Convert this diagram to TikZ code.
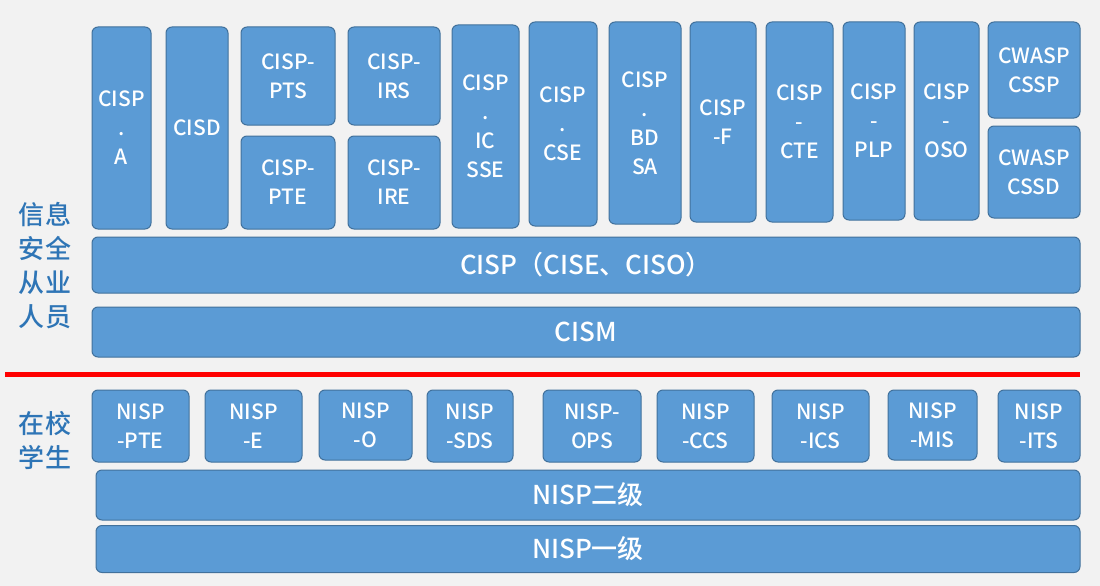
\documentclass[tikz,border=0pt]{standalone}
\usepackage{fontspec}
\setmainfont{Noto Sans CJK SC}[BoldFont={Noto Sans CJK SC Medium}]
\begin{document}
\begin{tikzpicture}[x=1pt,y=-1pt,
 bx/.style={draw=bord,fill=boxc,rounded corners=6pt,line width=1pt,text=white,align=center,font=\fontsize{21}{29}\selectfont\bfseries,inner sep=0pt},
 bar/.style={bx,font=\fontsize{26}{30}\selectfont\bfseries}]
\definecolor{boxc}{HTML}{5B9BD5}\definecolor{bord}{HTML}{41719C}\definecolor{lab}{HTML}{2E75B6}
\fill[white!95!black] (0,0) rectangle (1100,586);
\newcommand\bb[6]{\node[bx,minimum width=#3-#2,minimum height=#5-#4] (#1) at ({(#2+#3)/2},{(#4+#5)/2}) {#6};}
\bb{a}{92}{151}{27}{229}{CISP\\.\\A}
\bb{b}{166}{228}{27}{229}{CISD}
\bb{c}{241}{335}{27}{125}{CISP-\\PTS}
\bb{d}{241}{335}{136}{229}{CISP-\\PTE}
\bb{e}{348}{440}{27}{125}{CISP-\\IRS}
\bb{f}{348}{440}{136}{229}{CISP-\\IRE}
\bb{g}{452}{519}{25}{228}{CISP\\.\\IC\\SSE}
\bb{h}{529}{597}{22}{226}{CISP\\.\\CSE}
\bb{i}{609}{681}{22}{224}{CISP\\.\\BD\\SA}
\bb{j}{690}{756}{22}{222}{CISP\\-F}
\bb{k}{766}{833}{22}{222}{CISP\\-\\CTE}
\bb{l}{843}{905}{22}{220}{CISP\\-\\PLP}
\bb{m}{914}{979}{22}{220}{CISP\\-\\OSO}
\bb{n}{988}{1080}{22}{118}{CWASP\\CSSP}
\bb{o}{988}{1080}{126}{218}{CWASP\\CSSD}
\node[bar,minimum width=988,minimum height=56] (cisp) at (586,265) {CISP（CISE、CISO）};
\node[bar,minimum width=988,minimum height=50] (cism) at (586,332) {CISM};
\draw[red,line width=5pt] (5,374) -- (1080,374);
\node[text=lab,font=\fontsize{26}{34}\selectfont\bfseries,align=center] (l1) at (45,266) {信息\\安全\\从业\\人员};
\node[text=lab,font=\fontsize{26}{34}\selectfont\bfseries,align=center] (l2) at (45,440) {在校\\学生};
\bb{p1}{92}{189}{390}{462}{NISP\\-PTE}
\bb{p2}{205}{302}{390}{462}{NISP\\-E}
\bb{p3}{319}{412}{390}{460}{NISP\\-O}
\bb{p4}{427}{513}{390}{462}{NISP\\-SDS}
\bb{p5}{543}{641}{390}{462}{NISP-\\OPS}
\bb{p6}{657}{754}{390}{462}{NISP\\-CCS}
\bb{p7}{772}{869}{390}{462}{NISP\\-ICS}
\bb{p8}{888}{977}{390}{460}{NISP\\-MIS}
\bb{p9}{998}{1080}{390}{462}{NISP\\-ITS}
\node[bar,minimum width=984,minimum height=50] (n2) at (588,495) {NISP二级};
\node[bar,minimum width=984,minimum height=47] (n1) at (588,549) {NISP一级};
\useasboundingbox (0,0) rectangle (1100,586);
\end{tikzpicture}
\end{document}
